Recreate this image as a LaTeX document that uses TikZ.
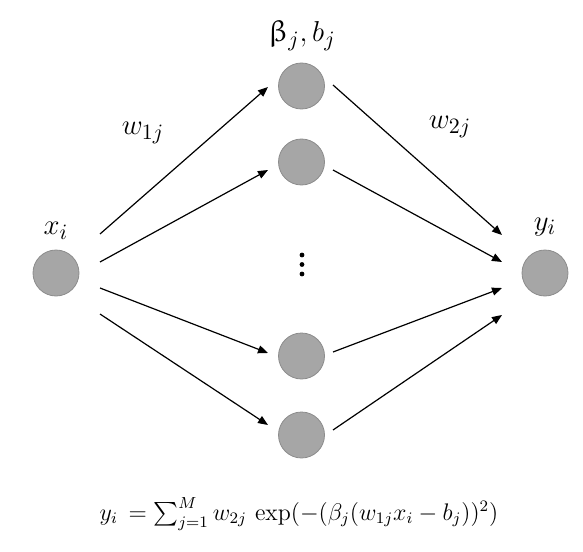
\documentclass[tikz,border=0pt]{standalone}
\usepackage{amsmath, amssymb}
\usepackage{upgreek}
\usepackage{tikz}
\usetikzlibrary{arrows.meta, positioning, calc}

\begin{document}
\begin{tikzpicture}[x=0.5pt, y=-0.5pt,
	neuron/.style={circle, fill=black!35, draw=black!45, line width=0.4pt, minimum size=23pt, inner sep=0pt},
	conn/.style={-{Triangle[length=5pt, width=4pt]}, line width=0.6pt},
	lbl/.style={font=\fontsize{15}{18}\selectfont}]
	\useasboundingbox (0,0) rectangle (583,551);
	% neurons
	\node[neuron] (x) at (56,273) {};
	\node[neuron] (h1) at (301.5,86) {};
	\node[neuron] (h2) at (301.5,162) {};
	\node[neuron] (h3) at (301.5,356) {};
	\node[neuron] (h4) at (301.5,435) {};
	\node[neuron] (y) at (545,273) {};
	% labels
	\node[lbl] (xlbl) at (56,231) {$x_i$};
	\node[lbl] (ylbl) at (545,227) {$y_i$};
	\node[lbl] (hlbl) at (302,36) {$\upbeta_j, b_j$};
	\node[lbl] (w1) at (143,133) {$w_{1j}$};
	\node[lbl] (w2) at (450,127) {$w_{2j}$};
	\foreach \d in {255,264.5,274}
		\fill (302,\d) circle (1.2pt);
	% input -> hidden
	\draw[conn] ($(x)+(44,-39)$) -- ($(h1)+(-33.5,1)$);
	\draw[conn] ($(x)+(44,-11)$) -- ($(h2)+(-33.5,8)$);
	\draw[conn] ($(x)+(44,15)$) -- ($(h3)+(-33.5,-3)$);
	\draw[conn] ($(x)+(44,41)$) -- ($(h4)+(-33.5,-10)$);
	% hidden -> output
	\draw[conn] ($(h1)+(31.5,-1)$) -- ($(y)+(-43,-38)$);
	\draw[conn] ($(h2)+(31.5,8)$) -- ($(y)+(-43,-11)$);
	\draw[conn] ($(h3)+(31.5,-4)$) -- ($(y)+(-43,15)$);
	\draw[conn] ($(h4)+(31.5,-5)$) -- ($(y)+(-43,42)$);
	% formula
	\node[font=\fontsize{11.8}{14}\selectfont] (eq) at (299,514) {$y_i\, = \sum_{j=1}^{M} w_{2j}\,\exp(-(\beta_j(w_{1j}x_i - b_j))^2)$};
\end{tikzpicture}
\end{document}
